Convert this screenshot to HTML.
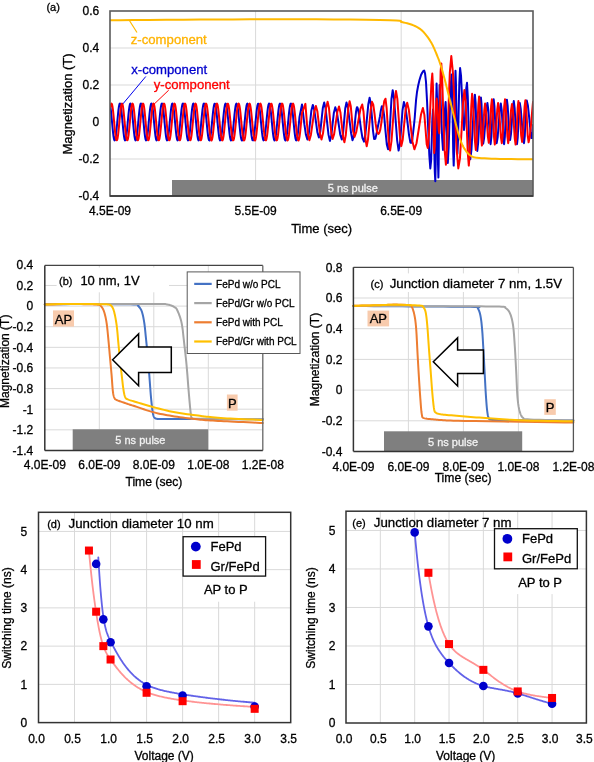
<!DOCTYPE html>
<html><head><meta charset="utf-8"><style>
html,body{margin:0;padding:0;background:#fff;}
svg{display:block;will-change:transform;}
text{font-family:"Liberation Sans", sans-serif;}
</style></head><body>
<svg width="594" height="762" viewBox="0 0 594 762">
<rect width="594" height="762" fill="#fff"/>
<line x1="110" y1="48" x2="533" y2="48" stroke="#d9d9d9" stroke-width="1" />
<line x1="110" y1="85" x2="533" y2="85" stroke="#d9d9d9" stroke-width="1" />
<line x1="110" y1="122" x2="533" y2="122" stroke="#d9d9d9" stroke-width="1" />
<line x1="110" y1="159" x2="533" y2="159" stroke="#d9d9d9" stroke-width="1" />
<line x1="255.6" y1="11" x2="255.6" y2="196" stroke="#d9d9d9" stroke-width="1" />
<line x1="401.2" y1="11" x2="401.2" y2="196" stroke="#d9d9d9" stroke-width="1" />
<rect x="172" y="180" width="361" height="16" fill="#7f7f7f" stroke="none" stroke-width="1"/>
<text x="352.8" y="191.8" font-size="11" text-anchor="middle" fill="#f2f2f2" stroke="#f2f2f2" stroke-width="0.3" >5 ns pulse</text>
<clipPath id="ca"><rect x="110" y="11" width="423" height="185"/></clipPath>
<path d="M110.5,107.37 L111,111.35 L111.5,116.28 L112,121.72 L112.5,127.19 L113,132.19 L113.5,136.29 L114,139.12 L114.5,140.43 L115,140.1 L115.5,138.16 L116,134.78 L116.5,130.28 L117,125.03 L117.5,119.52 L118,114.22 L118.5,109.62 L119,106.12 L119.5,104.03 L120,103.53 L120.5,104.68 L121,107.37 L121.5,111.35 L122,116.28 L122.5,121.72 L123,127.19 L123.5,132.19 L124,136.29 L124.5,139.12 L125,140.43 L125.5,140.1 L126,138.16 L126.5,134.78 L127,130.28 L127.5,125.03 L128,119.52 L128.5,114.22 L129,109.62 L129.5,106.12 L130,104.03 L130.5,103.53 L131,104.68 L131.5,107.37 L132,111.35 L132.5,116.28 L133,121.72 L133.5,127.19 L134,132.19 L134.5,136.29 L135,139.12 L135.5,140.43 L136,140.1 L136.5,138.16 L137,134.78 L137.5,130.28 L138,125.03 L138.5,119.52 L139,114.22 L139.5,109.62 L140,106.12 L140.5,104.03 L141,103.53 L141.5,104.68 L142,107.37 L142.5,111.35 L143,116.28 L143.5,121.72 L144,127.19 L144.5,132.19 L145,136.29 L145.5,139.12 L146,140.43 L146.5,140.1 L147,138.16 L147.5,134.78 L148,130.28 L148.5,125.03 L149,119.52 L149.5,114.22 L150,109.62 L150.5,106.12 L151,104.03 L151.5,103.53 L152,104.68 L152.5,107.37 L153,111.35 L153.5,116.28 L154,121.72 L154.5,127.19 L155,132.19 L155.5,136.29 L156,139.12 L156.5,140.43 L157,140.1 L157.5,138.16 L158,134.78 L158.5,130.28 L159,125.03 L159.5,119.52 L160,114.22 L160.5,109.62 L161,106.12 L161.5,104.03 L162,103.53 L162.5,104.68 L163,107.37 L163.5,111.35 L164,116.28 L164.5,121.72 L165,127.19 L165.5,132.19 L166,136.29 L166.5,139.12 L167,140.43 L167.5,140.1 L168,138.16 L168.5,134.78 L169,130.28 L169.5,125.03 L170,119.52 L170.5,114.22 L171,109.62 L171.5,106.12 L172,104.03 L172.5,103.53 L173,104.68 L173.5,107.37 L174,111.35 L174.5,116.28 L175,121.72 L175.5,127.19 L176,132.19 L176.5,136.29 L177,139.12 L177.5,140.43 L178,140.1 L178.5,138.16 L179,134.78 L179.5,130.28 L180,125.03 L180.5,119.52 L181,114.22 L181.5,109.62 L182,106.12 L182.5,104.03 L183,103.53 L183.5,104.68 L184,107.37 L184.5,111.35 L185,116.28 L185.5,121.72 L186,127.19 L186.5,132.19 L187,136.29 L187.5,139.12 L188,140.43 L188.5,140.1 L189,138.16 L189.5,134.78 L190,130.28 L190.5,125.03 L191,119.52 L191.5,114.22 L192,109.62 L192.5,106.12 L193,104.03 L193.5,103.53 L194,104.68 L194.5,107.37 L195,111.35 L195.5,116.28 L196,121.72 L196.5,127.19 L197,132.19 L197.5,136.29 L198,139.12 L198.5,140.43 L199,140.1 L199.5,138.16 L200,134.78 L200.5,130.28 L201,125.03 L201.5,119.52 L202,114.22 L202.5,109.62 L203,106.12 L203.5,104.03 L204,103.53 L204.5,104.6 L205,107.12 L205.5,110.86 L206,115.54 L206.5,120.74 L207,126.06 L207.5,131.03 L208,135.26 L208.5,138.39 L209,140.15 L209.5,140.42 L210,139.15 L210.5,136.46 L211,132.57 L211.5,127.81 L212,122.56 L212.5,117.27 L213,112.37 L213.5,108.26 L214,105.3 L214.5,103.72 L215,103.66 L215.5,105.12 L216,107.98 L216.5,112 L217,116.86 L217.5,122.13 L218,127.4 L218.5,132.22 L219,136.19 L219.5,138.99 L220,140.37 L220.5,140.23 L221,138.58 L221.5,135.55 L222,131.4 L222.5,126.47 L223,121.17 L223.5,115.94 L224,111.21 L224.5,107.37 L225,104.75 L225.5,103.56 L226,103.9 L226.5,105.74 L227,108.93 L227.5,113.2 L228,118.2 L228.5,123.52 L229,128.71 L229.5,133.35 L230,137.04 L230.5,139.49 L231,140.48 L231.5,139.94 L232,137.92 L232.5,134.57 L233,130.18 L233.5,125.11 L234,119.79 L234.5,114.64 L235,110.11 L235.5,106.56 L236,104.3 L236.5,103.5 L237,104.24 L237.5,106.45 L238,109.95 L238.5,114.45 L239,119.57 L239.5,124.9 L240,129.99 L240.5,134.41 L241,137.81 L241.5,139.89 L242,140.49 L242.5,139.56 L243,137.17 L243.5,133.52 L244,128.91 L244.5,123.74 L245,118.41 L245.5,113.39 L246,109.08 L246.5,105.84 L247,103.94 L247.5,103.54 L248,104.68 L248.5,107.24 L249,111.04 L249.5,115.74 L250,120.96 L250.5,126.27 L251,131.22 L251.5,135.41 L252,138.48 L252.5,140.19 L253,140.39 L253.5,139.07 L254,136.33 L254.5,132.4 L255,127.6 L255.5,122.35 L256,117.06 L256.5,112.18 L257,108.12 L257.5,105.21 L258,103.69 L258.5,103.69 L259,105.21 L259.5,108.12 L260,112.18 L260.5,117.06 L261,122.35 L261.5,127.6 L262,132.4 L262.5,136.33 L263,139.07 L263.5,140.39 L264,140.19 L264.5,138.48 L265,135.41 L265.5,131.22 L266,126.27 L266.5,120.96 L267,115.74 L267.5,111.04 L268,107.24 L268.5,104.68 L269,103.54 L269.5,103.94 L270,105.84 L270.5,109.08 L271,113.39 L271.5,118.41 L272,123.74 L272.5,128.91 L273,133.52 L273.5,137.17 L274,139.56 L274.5,140.49 L275,139.89 L275.5,137.81 L276,134.41 L276.5,129.99 L277,124.9 L277.5,119.57 L278,114.45 L278.5,109.95 L279,106.45 L279.5,104.24 L280,103.5 L280.5,104.3 L281,106.56 L281.5,110.11 L282,114.64 L282.5,119.79 L283,125.11 L283.5,130.18 L284,134.57 L284.5,137.92 L285,139.94 L285.5,140.48 L286,139.49 L286.5,137.04 L287,133.35 L287.5,128.71 L288,123.52 L288.5,118.2 L289,113.2 L289.5,108.93 L290,105.74 L290.5,103.9 L291,103.56 L291.5,104.75 L292,107.37 L292.5,111.21 L293,115.94 L293.5,121.17 L294,126.47 L294.5,131.4 L295,135.55 L295.5,138.58 L296,140.23 L296.5,140.37 L297,138.99 L297.5,136.19 L298,132.22 L298.5,127.4 L299,122.13 L299.5,116.86 L302,104.5 L302.97,112.42 L304.36,124.16 L305.92,134.82 L307.4,139.5 L308.73,134.17 L310.06,122.35 L311.4,110.46 L312.8,104.9 L314.29,109.91 L315.86,121.23 L317.41,132.53 L318.9,137.5 L320.27,131.78 L321.57,119.64 L322.87,107.67 L324.2,102.5 L325.6,108.63 L327.04,121.62 L328.49,134.65 L329.9,140.9 L331.25,136 L332.55,124.43 L333.88,112.67 L335.3,107.2 L336.89,112.26 L338.59,123.56 L340.28,134.75 L341.8,139.5 L343.07,133.37 L344.18,120.66 L345.28,108.12 L346.5,102.5 L347.97,108.22 L349.57,120.8 L351.15,133.66 L352.5,140.2 L353.58,137.17 L354.49,128.59 L355.28,118.76 L356,112 L356.56,108.85 L356.96,107.21 L357.43,107.44 L358.2,109.9 L359.4,117.22 L360.89,128.36 L362.48,138.19 L364,141.6 L365.44,133.97 L366.88,119.11 L368.28,104.55 L369.6,97.8 L370.8,103.47 L371.9,116.69 L372.98,130.73 L374.1,138.9 L375.3,138.65 L376.53,133.81 L377.75,127.22 L378.9,121.7 L379.93,116.42 L380.87,110.41 L381.83,106.26 L382.9,106.6 L384.13,115.6 L385.46,130.7 L386.81,144.43 L388.1,149.3 L389.26,138.88 L390.36,118.64 L391.47,98.96 L392.7,90.2 L394.1,99.45 L395.61,119.74 L397.14,140.36 L398.6,150.6 L399.94,144.02 L401.21,127.53 L402.5,110.43 L403.9,102 L405.51,107.26 L407.26,120.42 L408.95,134.54 L410.4,142.7 L411.52,142.74 L412.42,138.46 L413.21,131.87 L414,125 L414.74,117.51 L415.39,108.61 L416.1,99.66 L417,92 L418.2,85.5 L419.61,79.59 L421.03,75.02 L422.3,72.5 L423.32,71.03 L424.21,70.63 L425.07,73.54 L426,82 L427.07,101.6 L428.21,129.48 L429.32,155.21 L430.3,168.4 L431.1,160.83 L431.77,139.86 L432.39,118.44 L433,109.5 L433.63,122.24 L434.24,147.83 L434.8,172.21 L435.3,181.3 L435.68,164.28 L435.98,131.01 L436.26,98.43 L436.6,83.5 L437.03,97.91 L437.51,130.22 L437.98,162.7 L438.4,177.6 L438.69,163.88 L438.9,133.12 L439.16,101.44 L439.6,85 L440.31,92.82 L441.21,114.71 L442.15,138 L443,150 L443.72,143.39 L444.38,126.26 L445,108.99 L445.6,102 L446.14,113.07 L446.63,134.98 L447.15,155.62 L447.8,162.9 L448.65,147.09 L449.65,116.81 L450.65,87.48 L451.5,74.5 L452.16,89.01 L452.72,120.45 L453.21,151.69 L453.7,165.6 L454.18,150.81 L454.62,118.71 L455.05,86.36 L455.5,70.8 L455.95,82.98 L456.39,111.68 L456.87,140.66 L457.4,153.7 L457.99,140.67 L458.62,112.16 L459.32,82.99 L460.1,68 L461.01,75.67 L462.03,96.59 L463.06,118.72 L464,130 L464.81,122.98 L465.54,105.5 L466.25,88.47 L467,82.8 L467.77,96.51 L468.55,122.08 L469.38,147.11 L470.3,159.2 L471.41,150.15 L472.66,128.21 L473.87,105.64 L474.9,94.7 L475.63,102.83 L476.16,122.11 L476.67,141.73 L477.3,150.9 L478.15,142.9 L479.11,124.77 L480.06,106.33 L480.9,97.4 L481.52,104 L482.01,119.75 L482.52,135.9 L483.2,143.7 L484.14,137.72 L485.24,123.67 L486.38,109.46 L487.4,103 L488.27,109.56 L489.07,123.86 L489.83,138.03 L490.6,144.2 L491.38,136.95 L492.16,121.58 L492.93,106.3 L493.7,99.3 L494.43,105.99 L495.14,120.93 L495.87,136.03 L496.7,143.2 L497.67,137.25 L498.73,123.49 L499.81,109.64 L500.8,103.4 L501.69,109.93 L502.53,124.09 L503.33,138.11 L504.1,144.2 L504.83,137.09 L505.51,121.98 L506.18,106.86 L506.9,99.7 L507.66,105.67 L508.44,119.5 L509.26,133.51 L510.1,140 L511,133.92 L511.95,120.37 L512.9,106.92 L513.8,101.1 L514.64,108.09 L515.46,122.79 L516.24,137.43 L517,144.2 L517.7,137.92 L518.34,123.78 L519.01,109.55 L519.8,103 L520.78,109.27 L521.9,123.19 L523.02,137.06 L524,143.2 L524.76,136.49 L525.38,122.07 L526.01,107.56 L526.8,100.6 L527.89,105.53 L529.17,117.51 L530.42,130.41 L531.4,138.1 L532.05,138.08 L532.49,133.89 L532.78,128.54 L533,125" fill="none" stroke="#0000cc" stroke-width="2" stroke-linejoin="round" stroke-linecap="round" clip-path="url(#ca)"/>
<path d="M110.5,106.71 L111,104.32 L111.5,103.5 L112,104.32 L112.5,106.71 L113,110.47 L113.5,115.24 L114,120.62 L114.5,126.12 L115,131.25 L115.5,135.56 L116,138.67 L116.5,140.29 L117,140.29 L117.5,138.67 L118,135.56 L118.5,131.25 L119,126.12 L119.5,120.62 L120,115.24 L120.5,110.47 L121,106.71 L121.5,104.32 L122,103.5 L122.5,104.32 L123,106.71 L123.5,110.47 L124,115.24 L124.5,120.62 L125,126.12 L125.5,131.25 L126,135.56 L126.5,138.67 L127,140.29 L127.5,140.29 L128,138.67 L128.5,135.56 L129,131.25 L129.5,126.12 L130,120.62 L130.5,115.24 L131,110.47 L131.5,106.71 L132,104.32 L132.5,103.5 L133,104.32 L133.5,106.71 L134,110.47 L134.5,115.24 L135,120.62 L135.5,126.12 L136,131.25 L136.5,135.56 L137,138.67 L137.5,140.29 L138,140.29 L138.5,138.67 L139,135.56 L139.5,131.25 L140,126.12 L140.5,120.62 L141,115.24 L141.5,110.47 L142,106.71 L142.5,104.32 L143,103.5 L143.5,104.32 L144,106.71 L144.5,110.47 L145,115.24 L145.5,120.62 L146,126.12 L146.5,131.25 L147,135.56 L147.5,138.67 L148,140.29 L148.5,140.29 L149,138.67 L149.5,135.56 L150,131.25 L150.5,126.12 L151,120.62 L151.5,115.24 L152,110.47 L152.5,106.71 L153,104.32 L153.5,103.5 L154,104.32 L154.5,106.71 L155,110.47 L155.5,115.24 L156,120.62 L156.5,126.12 L157,131.25 L157.5,135.56 L158,138.67 L158.5,140.29 L159,140.29 L159.5,138.67 L160,135.56 L160.5,131.25 L161,126.12 L161.5,120.62 L162,115.24 L162.5,110.47 L163,106.71 L163.5,104.32 L164,103.5 L164.5,104.32 L165,106.71 L165.5,110.47 L166,115.24 L166.5,120.62 L167,126.12 L167.5,131.25 L168,135.56 L168.5,138.67 L169,140.29 L169.5,140.29 L170,138.67 L170.5,135.56 L171,131.25 L171.5,126.12 L172,120.62 L172.5,115.24 L173,110.47 L173.5,106.71 L174,104.32 L174.5,103.5 L175,104.32 L175.5,106.71 L176,110.47 L176.5,115.24 L177,120.62 L177.5,126.12 L178,131.25 L178.5,135.56 L179,138.67 L179.5,140.29 L180,140.29 L180.5,138.67 L181,135.56 L181.5,131.25 L182,126.12 L182.5,120.62 L183,115.24 L183.5,110.47 L184,106.71 L184.5,104.32 L185,103.5 L185.5,104.32 L186,106.71 L186.5,110.47 L187,115.24 L187.5,120.62 L188,126.12 L188.5,131.25 L189,135.56 L189.5,138.67 L190,140.29 L190.5,140.29 L191,138.67 L191.5,135.56 L192,131.25 L192.5,126.12 L193,120.62 L193.5,115.24 L194,110.47 L194.5,106.71 L195,104.32 L195.5,103.5 L196,104.32 L196.5,106.71 L197,110.47 L197.5,115.24 L198,120.62 L198.5,126.12 L199,131.25 L199.5,135.56 L200,138.67 L200.5,140.29 L201,140.29 L201.5,138.67 L202,135.56 L202.5,131.25 L203,126.12 L203.5,120.62 L204,115.24 L204.5,110.47 L205,106.71 L205.5,104.32 L206,103.5 L206.5,104.27 L207,106.51 L207.5,110.03 L208,114.55 L208.5,119.68 L209,125.01 L209.5,130.09 L210,134.49 L210.5,137.86 L211,139.92 L211.5,140.49 L212,139.52 L212.5,137.1 L213,133.43 L213.5,128.81 L214,123.63 L214.5,118.31 L215,113.3 L215.5,109 L216,105.79 L216.5,103.92 L217,103.55 L217.5,104.71 L218,107.31 L218.5,111.12 L219,115.84 L219.5,121.06 L220,126.37 L220.5,131.31 L221,135.48 L221.5,138.53 L222,140.21 L222.5,140.38 L223,139.03 L223.5,136.26 L224,132.31 L224.5,127.5 L225,122.24 L225.5,116.96 L226,112.09 L226.5,108.05 L227,105.17 L227.5,103.68 L228,103.71 L228.5,105.26 L229,108.19 L229.5,112.28 L230,117.16 L230.5,122.45 L231,127.71 L231.5,132.49 L232,136.39 L232.5,139.11 L233,140.41 L233.5,140.17 L234,138.44 L234.5,135.33 L235,131.13 L235.5,126.16 L236,120.85 L236.5,115.64 L237,110.95 L237.5,107.18 L238,104.64 L238.5,103.54 L239,103.97 L239.5,105.89 L240,109.16 L240.5,113.48 L241,118.52 L241.5,123.84 L242,129.01 L242.5,133.6 L243,137.23 L243.5,139.59 L244,140.49 L244.5,139.86 L245,137.75 L245.5,134.33 L246,129.89 L246.5,124.8 L247,119.47 L247.5,114.35 L248,109.87 L248.5,106.39 L249,104.21 L249.5,103.5 L250,104.33 L250.5,106.62 L251,110.19 L251.5,114.74 L252,119.89 L252.5,125.22 L253,130.28 L253.5,134.65 L254,137.97 L254.5,139.97 L255,140.48 L255.5,139.45 L256,136.98 L256.5,133.26 L257,128.61 L257.5,123.42 L258,118.1 L258.5,113.11 L259,108.85 L259.5,105.69 L260,103.88 L260.5,103.57 L261,104.79 L261.5,107.44 L262,111.3 L262.5,116.04 L263,121.28 L263.5,126.58 L264,131.5 L264.5,135.63 L265,138.63 L265.5,140.25 L266,140.36 L266.5,138.94 L267,136.12 L267.5,132.13 L268,127.3 L268.5,122.03 L269,116.75 L269.5,111.91 L270,107.91 L270.5,105.08 L271,103.65 L271.5,103.74 L272,105.35 L272.5,108.34 L273,112.46 L273.5,117.37 L274,122.67 L274.5,127.91 L275,132.66 L275.5,136.53 L276,139.19 L276.5,140.43 L277,140.13 L277.5,138.34 L278,135.19 L278.5,130.94 L279,125.95 L279.5,120.64 L280,115.44 L280.5,110.78 L281,107.05 L281.5,104.57 L282,103.53 L282.5,104.02 L283,106 L283.5,109.31 L284,113.68 L284.5,118.73 L285,124.05 L285.5,129.21 L286,133.77 L286.5,137.35 L287,139.65 L287.5,140.5 L288,139.81 L288.5,137.64 L289,134.17 L289.5,129.7 L290,124.58 L290.5,119.26 L291,114.16 L291.5,109.71 L292,106.28 L292.5,104.15 L293,103.5 L293.5,104.39 L294,106.74 L294.5,110.36 L295,114.94 L295.5,120.11 L296,125.43 L296.5,130.47 L297,134.8 L297.5,138.08 L298,140.02 L298.5,140.47 L299,139.38 L299.5,136.85 L300,133.09 L300.5,128.41 L301,123.2 L301.5,117.89 L302,112.92 L305.4,103.9 L306.06,112.08 L306.99,124.19 L308.13,135.24 L309.4,140.2 L310.87,135 L312.55,123.22 L314.28,111.36 L315.9,105.9 L317.35,111.2 L318.72,122.91 L320.09,134.52 L321.5,139.5 L323.02,133.34 L324.59,120.43 L326.14,107.64 L327.6,101.8 L328.89,107.44 L330.08,120.02 L331.28,132.76 L332.6,138.9 L334.12,134.09 L335.78,122.79 L337.44,111.44 L339,106.5 L340.43,112.43 L341.77,124.89 L343.09,137.07 L344.4,142.2 L345.72,135.55 L347.03,121.7 L348.33,107.85 L349.6,101.2 L350.78,106.33 L351.89,118.51 L353.09,130.97 L354.5,136.9 L356.3,131.85 L358.38,120.32 L360.43,108.98 L362.2,104.5 L363.53,111.76 L364.6,126.16 L365.59,140.18 L366.7,146.3 L367.98,139.52 L369.33,124.85 L370.69,109.78 L372,101.8 L373.27,104.59 L374.51,113.59 L375.7,123.95 L376.8,130.8 L377.73,133.32 L378.52,133.94 L379.34,132.7 L380.3,129.6 L381.49,122.02 L382.83,110.83 L384.2,101.3 L385.5,98.7 L386.66,108.47 L387.76,126.45 L388.87,143.53 L390.1,150.6 L391.5,140.83 L393.01,120.55 L394.54,100.37 L396,90.9 L397.35,98.91 L398.65,117.42 L399.95,136.45 L401.3,146 L402.7,139.99 L404.13,124.88 L405.62,109.51 L407.2,102.7 L408.88,110.09 L410.64,125.88 L412.48,141.73 L414.4,149.3 L416.52,143.23 L418.79,129.01 L421,114.58 L422.9,107.9 L424.39,114.88 L425.6,130.02 L426.69,144.12 L427.8,148 L429.01,133.82 L430.24,108.29 L431.37,83.98 L432.3,73.5 L432.95,85.69 L433.38,112.01 L433.75,138.94 L434.2,153 L434.76,146.68 L435.35,128.48 L435.97,108.89 L436.6,98.4 L437.27,103.31 L437.98,116.86 L438.67,129.93 L439.3,133.4 L439.79,119.27 L440.18,94.26 L440.63,71.32 L441.3,63.4 L442.25,81.6 L443.39,116.47 L444.63,150.13 L445.9,164.7 L447.16,147.11 L448.45,109.66 L449.82,72.55 L451.3,56 L452.96,73.02 L454.76,110.3 L456.58,148.53 L458.3,168.4 L459.93,158.63 L461.51,131.56 L463.02,103.33 L464.4,90.1 L465.65,101.61 L466.77,127.44 L467.82,153.48 L468.8,165.6 L469.69,155.01 L470.49,130.91 L471.27,106.2 L472.1,93.8 L473.01,101.42 L473.95,120.75 L474.89,140.66 L475.8,150 L476.66,141.96 L477.51,123.75 L478.32,105.32 L479.1,96.6 L479.83,103.79 L480.51,120.4 L481.18,137.36 L481.9,145.6 L482.66,139.55 L483.44,125.1 L484.26,110.35 L485.1,103.4 L486,109.46 L486.96,123.18 L487.91,136.87 L488.8,142.8 L489.62,135.67 L490.4,120.68 L491.15,105.87 L491.9,99.3 L492.63,106.42 L493.34,121.83 L494.05,137.3 L494.8,144.6 L495.59,138.39 L496.4,124.12 L497.24,109.69 L498.1,103 L499.01,109.27 L499.96,123.24 L500.9,137.15 L501.8,143.2 L502.64,136.08 L503.43,121.02 L504.21,106.07 L505,99.3 L505.79,106.05 L506.56,120.96 L507.36,136.02 L508.2,143.2 L509.11,137.35 L510.07,123.75 L511.05,110.05 L512,103.9 L512.93,110.42 L513.86,124.51 L514.76,138.47 L515.6,144.6 L516.34,137.67 L516.99,122.84 L517.66,108.02 L518.4,101.1 L519.27,107.31 L520.22,121.39 L521.18,135.53 L522.1,141.9 L522.96,135.31 L523.78,120.97 L524.59,106.67 L525.4,100.2 L526.18,106.76 L526.93,121.16 L527.72,135.6 L528.6,142.3 L529.72,137.07 L531,124.78 L532.18,111.17 L533,102" fill="none" stroke="#ff0000" stroke-width="2" stroke-linejoin="round" stroke-linecap="round" clip-path="url(#ca)"/>
<path d="M110.5,20.2 L120.12,20.13 L133.31,20.04 L149,19.93 L166.07,19.81 L183.44,19.7 L200,19.6 L216.17,19.51 L232.93,19.4 L249.97,19.3 L267.02,19.22 L283.79,19.18 L300,19.2 L316.48,19.28 L333.64,19.4 L350.51,19.56 L366.16,19.75 L379.64,19.97 L390,20.2 L396.51,20.46 L399.79,20.74 L400.89,21.04 L400.88,21.37 L400.83,21.73 L401.8,22.1 L403.62,22.49 L405.4,22.89 L407.14,23.31 L408.82,23.77 L410.45,24.26 L412,24.8 L413.48,25.38 L414.91,26 L416.27,26.65 L417.57,27.35 L418.81,28.1 L420,28.9 L421.1,29.75 L422.12,30.63 L423.08,31.56 L424.01,32.55 L424.94,33.63 L425.9,34.8 L426.89,36.07 L427.9,37.44 L428.91,38.89 L429.91,40.4 L430.87,41.98 L431.8,43.6 L432.68,45.3 L433.54,47.08 L434.37,48.93 L435.17,50.8 L435.95,52.66 L436.7,54.5 L437.42,56.27 L438.1,58 L438.76,59.72 L439.41,61.48 L440.05,63.33 L440.7,65.3 L441.35,67.4 L442,69.6 L442.65,71.89 L443.3,74.24 L443.95,76.65 L444.6,79.1 L445.26,81.62 L445.93,84.22 L446.6,86.88 L447.27,89.57 L447.94,92.25 L448.6,94.9 L449.25,97.52 L449.9,100.14 L450.55,102.75 L451.2,105.36 L451.85,107.98 L452.5,110.6 L453.16,113.25 L453.83,115.93 L454.5,118.62 L455.17,121.28 L455.84,123.88 L456.5,126.4 L457.14,128.86 L457.77,131.3 L458.39,133.68 L459.03,135.97 L459.69,138.15 L460.4,140.2 L461.15,142.11 L461.92,143.9 L462.72,145.59 L463.56,147.16 L464.41,148.63 L465.3,150 L466.2,151.27 L467.12,152.43 L468.06,153.49 L469.05,154.44 L470.09,155.28 L471.2,156 L472.25,156.56 L473.2,156.97 L474.21,157.26 L475.43,157.49 L477.01,157.68 L479.1,157.9 L481.69,158.13 L484.66,158.32 L487.98,158.49 L491.66,158.64 L495.67,158.78 L500,158.9 L505.18,159.01 L511.33,159.09 L517.81,159.16 L524,159.22 L529.27,159.26 L533,159.3" fill="none" stroke="#ffb900" stroke-width="2" stroke-linejoin="round" stroke-linecap="round" clip-path="url(#ca)"/>
<line x1="129.4" y1="20.5" x2="137" y2="32.5" stroke="#ffb900" stroke-width="1.2" />
<text x="130.8" y="43.6" font-size="13.15" text-anchor="start" fill="#ffb300" stroke="#ffb300" stroke-width="0.3" >z-component</text>
<line x1="145.8" y1="76.5" x2="122.9" y2="103.9" stroke="#0000ee" stroke-width="1" />
<text x="131.2" y="74.2" font-size="13.15" text-anchor="start" fill="#0000cc" stroke="#0000cc" stroke-width="0.3" >x-component</text>
<line x1="168.7" y1="90.2" x2="153.2" y2="105" stroke="#ff0000" stroke-width="1" />
<text x="153.8" y="88.5" font-size="13.15" text-anchor="start" fill="#ff0000" stroke="#ff0000" stroke-width="0.3" >y-component</text>
<rect x="110" y="11" width="423" height="185" fill="none" stroke="#5a5a5a" stroke-width="1.6"/>
<line x1="110" y1="196" x2="533" y2="196" stroke="#333" stroke-width="1.6" />
<text x="99.2" y="15.3" font-size="12" text-anchor="end" fill="#000" stroke="#000" stroke-width="0.3" >0.6</text>
<text x="99.2" y="52.3" font-size="12" text-anchor="end" fill="#000" stroke="#000" stroke-width="0.3" >0.4</text>
<text x="99.2" y="89.3" font-size="12" text-anchor="end" fill="#000" stroke="#000" stroke-width="0.3" >0.2</text>
<text x="99.2" y="126.3" font-size="12" text-anchor="end" fill="#000" stroke="#000" stroke-width="0.3" >0</text>
<text x="99.2" y="163.3" font-size="12" text-anchor="end" fill="#000" stroke="#000" stroke-width="0.3" >-0.2</text>
<text x="99.2" y="200.3" font-size="12" text-anchor="end" fill="#000" stroke="#000" stroke-width="0.3" >-0.4</text>
<text x="110" y="215" font-size="12" text-anchor="middle" fill="#000" stroke="#000" stroke-width="0.3" >4.5E-09</text>
<text x="255.6" y="215" font-size="12" text-anchor="middle" fill="#000" stroke="#000" stroke-width="0.3" >5.5E-09</text>
<text x="401.2" y="215" font-size="12" text-anchor="middle" fill="#000" stroke="#000" stroke-width="0.3" >6.5E-09</text>
<text x="321.6" y="233.4" font-size="13" text-anchor="middle" fill="#000" stroke="#000" stroke-width="0.3" >Time (sec)</text>
<text transform="translate(72.4,104) rotate(-90)" x="0" y="0" font-size="13" text-anchor="middle" fill="#000" stroke="#000" stroke-width="0.3">Magnetization (T)</text>
<text x="46.4" y="10.5" font-size="11" text-anchor="start" fill="#000" stroke="#000" stroke-width="0.3" >(a)</text>
<line x1="44.8" y1="285.48" x2="262.8" y2="285.48" stroke="#d9d9d9" stroke-width="1" />
<line x1="44.8" y1="306.1" x2="262.8" y2="306.1" stroke="#d9d9d9" stroke-width="1" />
<line x1="44.8" y1="326.72" x2="262.8" y2="326.72" stroke="#d9d9d9" stroke-width="1" />
<line x1="44.8" y1="347.34" x2="262.8" y2="347.34" stroke="#d9d9d9" stroke-width="1" />
<line x1="44.8" y1="367.96" x2="262.8" y2="367.96" stroke="#d9d9d9" stroke-width="1" />
<line x1="44.8" y1="388.58" x2="262.8" y2="388.58" stroke="#d9d9d9" stroke-width="1" />
<line x1="44.8" y1="409.2" x2="262.8" y2="409.2" stroke="#d9d9d9" stroke-width="1" />
<line x1="44.8" y1="429.82" x2="262.8" y2="429.82" stroke="#d9d9d9" stroke-width="1" />
<line x1="99.3" y1="265.4" x2="99.3" y2="450.4" stroke="#d9d9d9" stroke-width="1" />
<line x1="153.8" y1="265.4" x2="153.8" y2="450.4" stroke="#d9d9d9" stroke-width="1" />
<line x1="208.3" y1="265.4" x2="208.3" y2="450.4" stroke="#d9d9d9" stroke-width="1" />
<rect x="72.7" y="429.3" width="135.5" height="21.1" fill="#7f7f7f" stroke="none" stroke-width="1"/>
<text x="140.4" y="444.2" font-size="11" text-anchor="middle" fill="#f2f2f2" stroke="#f2f2f2" stroke-width="0.3" >5 ns pulse</text>
<rect x="53" y="310.4" width="21" height="16.2" fill="#f8cbad" stroke="none" stroke-width="1"/>
<text x="63.5" y="323.6" font-size="13" text-anchor="middle" fill="#000" stroke="#000" stroke-width="0.3" >AP</text>
<rect x="226.9" y="394.5" width="10.7" height="16.2" fill="#f8cbad" stroke="none" stroke-width="1"/>
<text x="232.25" y="407.7" font-size="13" text-anchor="middle" fill="#000" stroke="#000" stroke-width="0.3" >P</text>
<path d="M44.8,304.2 L48.3,304.19 L52.95,304.17 L58.49,304.15 L64.65,304.13 L71.15,304.11 L77.72,304.1 L84.1,304.09 L90,304.1 L95.83,304.11 L102.02,304.11 L108.34,304.12 L114.56,304.14 L120.47,304.17 L125.83,304.22 L130.41,304.29 L134,304.4 L136.43,304.52 L137.86,304.65 L138.52,304.79 L138.63,304.95 L138.43,305.15 L138.13,305.4 L137.98,305.72 L138.2,306.1 L138.68,306.53 L139.15,307 L139.61,307.5 L140.06,308.06 L140.49,308.7 L140.91,309.42 L141.32,310.25 L141.7,311.2 L142.07,312.27 L142.41,313.45 L142.75,314.73 L143.06,316.11 L143.37,317.56 L143.65,319.08 L143.93,320.67 L144.2,322.3 L144.45,324.01 L144.68,325.81 L144.9,327.69 L145.1,329.63 L145.3,331.61 L145.49,333.63 L145.69,335.66 L145.9,337.7 L146.11,339.73 L146.33,341.78 L146.54,343.84 L146.75,345.94 L146.96,348.07 L147.18,350.25 L147.39,352.49 L147.6,354.8 L147.81,357.18 L148.03,359.63 L148.24,362.13 L148.45,364.68 L148.66,367.27 L148.88,369.9 L149.09,372.54 L149.3,375.2 L149.51,377.94 L149.72,380.78 L149.93,383.69 L150.14,386.61 L150.36,389.49 L150.57,392.29 L150.78,394.94 L151,397.4 L151.22,399.72 L151.45,401.97 L151.67,404.13 L151.9,406.18 L152.13,408.09 L152.35,409.85 L152.58,411.42 L152.8,412.8 L153.01,413.94 L153.21,414.85 L153.41,415.57 L153.61,416.14 L153.81,416.6 L154.02,416.99 L154.25,417.34 L154.5,417.7 L154.76,418.03 L155.01,418.26 L155.26,418.43 L155.54,418.54 L155.84,418.62 L156.17,418.68 L156.56,418.73 L157,418.8 L157.3,418.87 L157.37,418.92 L157.37,418.95 L157.46,418.96 L157.82,418.97 L158.6,418.98 L159.97,418.99 L162.1,419 L164.92,419.02 L168.23,419.03 L172.04,419.04 L176.32,419.06 L181.07,419.07 L186.27,419.08 L191.92,419.09 L198,419.1 L205.16,419.11 L213.69,419.13 L223.03,419.14 L232.64,419.16 L241.98,419.17 L250.48,419.18 L257.6,419.19 L262.8,419.2" fill="none" stroke="#4472c4" stroke-width="2" stroke-linejoin="round" stroke-linecap="round" />
<path d="M44.8,303.9 L50.84,303.9 L59.14,303.9 L69.04,303.9 L79.9,303.89 L91.07,303.89 L101.91,303.89 L111.77,303.9 L120,303.9 L126.91,303.91 L133.25,303.91 L139.03,303.92 L144.26,303.92 L148.96,303.94 L153.15,303.95 L156.82,303.97 L160,304 L162.47,304.03 L164.12,304.06 L165.14,304.09 L165.7,304.12 L165.99,304.17 L166.18,304.23 L166.46,304.3 L167,304.4 L167.72,304.52 L168.4,304.66 L169.05,304.81 L169.67,304.98 L170.25,305.16 L170.8,305.34 L171.32,305.52 L171.8,305.7 L172.24,305.88 L172.64,306.06 L173,306.24 L173.33,306.43 L173.63,306.62 L173.92,306.81 L174.21,307.01 L174.5,307.2 L174.78,307.37 L175.03,307.49 L175.27,307.6 L175.5,307.72 L175.73,307.87 L175.97,308.09 L176.22,308.39 L176.5,308.8 L176.81,309.33 L177.14,309.97 L177.49,310.69 L177.84,311.48 L178.2,312.3 L178.55,313.14 L178.89,313.98 L179.2,314.8 L179.5,315.61 L179.79,316.43 L180.07,317.27 L180.34,318.11 L180.6,318.97 L180.85,319.84 L181.08,320.72 L181.3,321.6 L181.5,322.49 L181.69,323.37 L181.86,324.26 L182.02,325.16 L182.17,326.08 L182.31,327.02 L182.46,327.99 L182.6,329 L182.73,329.93 L182.83,330.73 L182.91,331.49 L183,332.31 L183.1,333.27 L183.22,334.48 L183.39,336.03 L183.6,338 L183.88,340.45 L184.2,343.32 L184.57,346.52 L184.96,349.97 L185.37,353.57 L185.77,357.25 L186.15,360.92 L186.5,364.5 L186.83,368.1 L187.14,371.86 L187.45,375.7 L187.75,379.57 L188.04,383.41 L188.33,387.13 L188.62,390.68 L188.9,394 L189.18,397.18 L189.46,400.33 L189.73,403.39 L190,406.3 L190.26,409.01 L190.52,411.45 L190.76,413.56 L191,415.3 L191.2,416.58 L191.35,417.42 L191.47,417.91 L191.59,418.16 L191.74,418.24 L191.94,418.24 L192.22,418.27 L192.6,418.4 L192.69,418.58 L192.29,418.69 L191.74,418.76 L191.35,418.78 L191.46,418.78 L192.38,418.78 L194.46,418.78 L198,418.8 L203.7,418.84 L211.54,418.87 L220.8,418.9 L230.74,418.93 L240.64,418.95 L249.76,418.97 L257.39,418.99 L262.8,419" fill="none" stroke="#a5a5a5" stroke-width="2" stroke-linejoin="round" stroke-linecap="round" />
<path d="M44.8,304.6 L46.78,304.55 L49.45,304.47 L52.63,304.38 L56.15,304.28 L59.82,304.19 L63.48,304.1 L66.93,304.04 L70,304 L72.84,303.99 L75.67,304.01 L78.45,304.05 L81.13,304.09 L83.67,304.15 L86.03,304.2 L88.15,304.26 L90,304.3 L91.53,304.33 L92.77,304.36 L93.77,304.38 L94.59,304.41 L95.28,304.44 L95.89,304.48 L96.48,304.53 L97.1,304.6 L97.7,304.66 L98.21,304.69 L98.65,304.72 L99.03,304.77 L99.39,304.86 L99.74,305.01 L100.1,305.25 L100.5,305.6 L100.93,306.04 L101.37,306.55 L101.81,307.12 L102.25,307.77 L102.68,308.5 L103.11,309.31 L103.51,310.21 L103.9,311.2 L104.27,312.29 L104.63,313.49 L104.97,314.77 L105.31,316.14 L105.63,317.58 L105.93,319.09 L106.22,320.67 L106.5,322.3 L106.76,324 L106.99,325.77 L107.2,327.62 L107.41,329.52 L107.6,331.49 L107.8,333.52 L107.99,335.59 L108.2,337.7 L108.41,339.88 L108.62,342.14 L108.84,344.47 L109.05,346.84 L109.26,349.24 L109.48,351.64 L109.69,354.04 L109.9,356.4 L110.12,358.77 L110.34,361.17 L110.56,363.59 L110.78,366.01 L111,368.39 L111.21,370.74 L111.41,373.01 L111.6,375.2 L111.77,377.35 L111.93,379.49 L112.08,381.6 L112.22,383.65 L112.36,385.6 L112.5,387.43 L112.64,389.11 L112.8,390.6 L112.96,391.89 L113.11,393 L113.26,393.96 L113.42,394.8 L113.59,395.54 L113.77,396.2 L113.97,396.81 L114.2,397.4 L114.41,397.92 L114.59,398.33 L114.75,398.65 L114.95,398.91 L115.21,399.15 L115.56,399.39 L116.05,399.67 L116.7,400 L117.55,400.39 L118.58,400.81 L119.74,401.24 L121,401.68 L122.31,402.13 L123.62,402.57 L124.9,402.99 L126.1,403.4 L127.17,403.77 L128.13,404.09 L129.05,404.39 L129.97,404.69 L130.97,405.01 L132.1,405.37 L133.43,405.79 L135,406.3 L136.86,406.92 L138.97,407.64 L141.27,408.42 L143.71,409.25 L146.21,410.08 L148.74,410.89 L151.22,411.64 L153.6,412.3 L155.89,412.88 L158.16,413.41 L160.4,413.9 L162.66,414.35 L164.93,414.78 L167.23,415.19 L169.58,415.6 L172,416 L174.53,416.4 L177.19,416.79 L179.91,417.17 L182.66,417.54 L185.38,417.88 L188.02,418.21 L190.55,418.52 L192.9,418.8 L195.02,419.05 L196.91,419.27 L198.67,419.47 L200.36,419.65 L202.06,419.82 L203.85,419.98 L205.8,420.14 L208,420.3 L210.38,420.46 L212.85,420.61 L215.43,420.76 L218.12,420.9 L220.95,421.04 L223.93,421.19 L227.07,421.34 L230.4,421.5 L234.19,421.68 L238.56,421.89 L243.24,422.11 L248,422.32 L252.58,422.53 L256.74,422.72 L260.23,422.88 L262.8,423" fill="none" stroke="#ed7d31" stroke-width="2" stroke-linejoin="round" stroke-linecap="round" />
<path d="M44.8,304.6 L46.71,304.54 L49.22,304.45 L52.19,304.34 L55.52,304.23 L59.09,304.12 L62.77,304.02 L66.45,303.94 L70,303.9 L73.67,303.89 L77.67,303.9 L81.86,303.94 L86.06,303.99 L90.14,304.04 L93.92,304.1 L97.26,304.16 L100,304.2 L102.1,304.23 L103.7,304.24 L104.88,304.26 L105.76,304.27 L106.43,304.29 L107,304.33 L107.55,304.4 L108.2,304.5 L108.86,304.61 L109.41,304.71 L109.86,304.81 L110.25,304.94 L110.59,305.12 L110.92,305.36 L111.25,305.68 L111.6,306.1 L111.96,306.59 L112.31,307.11 L112.64,307.69 L112.96,308.35 L113.27,309.1 L113.58,309.96 L113.89,310.96 L114.2,312.1 L114.52,313.4 L114.85,314.84 L115.18,316.41 L115.5,318.1 L115.82,319.89 L116.13,321.76 L116.42,323.7 L116.7,325.7 L116.96,327.81 L117.2,330.07 L117.43,332.44 L117.65,334.88 L117.86,337.35 L118.07,339.8 L118.28,342.2 L118.5,344.5 L118.72,346.73 L118.93,348.94 L119.14,351.12 L119.36,353.27 L119.57,355.39 L119.78,357.49 L119.99,359.56 L120.2,361.6 L120.41,363.61 L120.62,365.59 L120.84,367.54 L121.05,369.46 L121.26,371.36 L121.48,373.23 L121.69,375.08 L121.9,376.9 L122.11,378.74 L122.33,380.6 L122.54,382.46 L122.75,384.28 L122.96,386.04 L123.17,387.7 L123.39,389.23 L123.6,390.6 L123.81,391.81 L124.01,392.9 L124.2,393.87 L124.4,394.73 L124.6,395.5 L124.82,396.2 L125.05,396.83 L125.3,397.4 L125.54,397.88 L125.76,398.23 L125.97,398.49 L126.21,398.68 L126.48,398.84 L126.83,398.99 L127.26,399.17 L127.8,399.4 L128.4,399.65 L129,399.88 L129.65,400.1 L130.39,400.33 L131.26,400.59 L132.29,400.89 L133.52,401.26 L135,401.7 L136.76,402.24 L138.78,402.86 L141.02,403.55 L143.41,404.27 L145.92,405.03 L148.49,405.78 L151.06,406.51 L153.6,407.2 L156.13,407.87 L158.72,408.55 L161.35,409.22 L164.02,409.89 L166.73,410.54 L169.47,411.16 L172.23,411.75 L175,412.3 L177.89,412.81 L180.94,413.3 L184.08,413.76 L187.21,414.19 L190.26,414.6 L193.13,414.96 L195.74,415.3 L198,415.6 L199.79,415.85 L201.12,416.03 L202.16,416.18 L203.04,416.29 L203.91,416.4 L204.93,416.51 L206.25,416.64 L208,416.8 L210.14,417 L212.49,417.22 L215.05,417.45 L217.8,417.69 L220.72,417.93 L223.81,418.16 L227.04,418.39 L230.4,418.6 L234.19,418.8 L238.56,419.01 L243.24,419.22 L248,419.41 L252.58,419.6 L256.74,419.76 L260.23,419.89 L262.8,420" fill="none" stroke="#ffc000" stroke-width="2" stroke-linejoin="round" stroke-linecap="round" />
<path d="M112.6,359.8 L138.6,333.9 L138.6,347 L171.3,347 L171.3,372.5 L138.6,372.5 L138.6,385.7 Z" fill="#fff" stroke="#000" stroke-width="1.5" stroke-linejoin="miter"/>
<line x1="44.8" y1="265.4" x2="262.8" y2="265.4" stroke="#444" stroke-width="1.3" />
<line x1="262.8" y1="265.4" x2="262.8" y2="450.4" stroke="#666" stroke-width="1.3" />
<line x1="44.8" y1="265.4" x2="44.8" y2="450.4" stroke="#333" stroke-width="1.5" />
<line x1="44.8" y1="450.4" x2="262.8" y2="450.4" stroke="#333" stroke-width="1.5" />
<rect x="187.2" y="271.9" width="112.8" height="81.6" fill="#fff" stroke="#595959" stroke-width="1"/>
<line x1="194.2" y1="283.9" x2="211.7" y2="283.9" stroke="#4472c4" stroke-width="2.2" />
<text x="216.1" y="287.7" font-size="10" text-anchor="start" fill="#000" stroke="#000" stroke-width="0.3" >FePd w/o PCL</text>
<line x1="194.2" y1="303.1" x2="211.7" y2="303.1" stroke="#a5a5a5" stroke-width="2.2" />
<text x="216.1" y="306.9" font-size="10" text-anchor="start" fill="#000" stroke="#000" stroke-width="0.3" >FePd/Gr w/o PCL</text>
<line x1="194.2" y1="322.3" x2="211.7" y2="322.3" stroke="#ed7d31" stroke-width="2.2" />
<text x="216.1" y="326.1" font-size="10" text-anchor="start" fill="#000" stroke="#000" stroke-width="0.3" >FePd with PCL</text>
<line x1="194.2" y1="341.5" x2="211.7" y2="341.5" stroke="#ffc000" stroke-width="2.2" />
<text x="216.1" y="345.3" font-size="10" text-anchor="start" fill="#000" stroke="#000" stroke-width="0.3" >FePd/Gr with PCL</text>
<text x="33.3" y="269.16" font-size="12" text-anchor="end" fill="#000" stroke="#000" stroke-width="0.3" >0.4</text>
<text x="33.3" y="289.78" font-size="12" text-anchor="end" fill="#000" stroke="#000" stroke-width="0.3" >0.2</text>
<text x="33.3" y="310.4" font-size="12" text-anchor="end" fill="#000" stroke="#000" stroke-width="0.3" >0</text>
<text x="33.3" y="331.02" font-size="12" text-anchor="end" fill="#000" stroke="#000" stroke-width="0.3" >-0.2</text>
<text x="33.3" y="351.64" font-size="12" text-anchor="end" fill="#000" stroke="#000" stroke-width="0.3" >-0.4</text>
<text x="33.3" y="372.26" font-size="12" text-anchor="end" fill="#000" stroke="#000" stroke-width="0.3" >-0.6</text>
<text x="33.3" y="392.88" font-size="12" text-anchor="end" fill="#000" stroke="#000" stroke-width="0.3" >-0.8</text>
<text x="33.3" y="413.5" font-size="12" text-anchor="end" fill="#000" stroke="#000" stroke-width="0.3" >-1</text>
<text x="33.3" y="434.12" font-size="12" text-anchor="end" fill="#000" stroke="#000" stroke-width="0.3" >-1.2</text>
<text x="33.3" y="454.74" font-size="12" text-anchor="end" fill="#000" stroke="#000" stroke-width="0.3" >-1.4</text>
<text x="44.8" y="469.3" font-size="12" text-anchor="middle" fill="#000" stroke="#000" stroke-width="0.3" >4.0E-09</text>
<text x="99.3" y="469.3" font-size="12" text-anchor="middle" fill="#000" stroke="#000" stroke-width="0.3" >6.0E-09</text>
<text x="153.8" y="469.3" font-size="12" text-anchor="middle" fill="#000" stroke="#000" stroke-width="0.3" >8.0E-09</text>
<text x="208.3" y="469.3" font-size="12" text-anchor="middle" fill="#000" stroke="#000" stroke-width="0.3" >1.0E-08</text>
<text x="262.8" y="469.3" font-size="12" text-anchor="middle" fill="#000" stroke="#000" stroke-width="0.3" >1.2E-08</text>
<text x="153.9" y="486.3" font-size="12.15" text-anchor="middle" fill="#000" stroke="#000" stroke-width="0.3" >Time (sec)</text>
<text transform="translate(9.1,361.3) rotate(-90)" x="0" y="0" font-size="12" text-anchor="middle" fill="#000" stroke="#000" stroke-width="0.3">Magnetization (T)</text>
<rect x="56.6" y="267.5" width="112.4" height="24.8" fill="#fff" stroke="none" stroke-width="1"/>
<text x="59.1" y="285.1" font-size="11" text-anchor="start" fill="#000" stroke="#000" stroke-width="0.3" >(b)</text>
<text x="80.4" y="285.1" font-size="13" text-anchor="start" fill="#000" stroke="#000" stroke-width="0.3" >10 nm, 1V</text>
<line x1="353.4" y1="298" x2="573.4" y2="298" stroke="#d9d9d9" stroke-width="1" />
<line x1="353.4" y1="328.7" x2="573.4" y2="328.7" stroke="#d9d9d9" stroke-width="1" />
<line x1="353.4" y1="359.4" x2="573.4" y2="359.4" stroke="#d9d9d9" stroke-width="1" />
<line x1="353.4" y1="390.1" x2="573.4" y2="390.1" stroke="#d9d9d9" stroke-width="1" />
<line x1="353.4" y1="420.8" x2="573.4" y2="420.8" stroke="#d9d9d9" stroke-width="1" />
<line x1="408.4" y1="267.3" x2="408.4" y2="451.4" stroke="#d9d9d9" stroke-width="1" />
<line x1="463.4" y1="267.3" x2="463.4" y2="451.4" stroke="#d9d9d9" stroke-width="1" />
<line x1="518.4" y1="267.3" x2="518.4" y2="451.4" stroke="#d9d9d9" stroke-width="1" />
<rect x="384" y="431.3" width="138.2" height="20.1" fill="#7f7f7f" stroke="none" stroke-width="1"/>
<text x="453.1" y="446.1" font-size="11" text-anchor="middle" fill="#f2f2f2" stroke="#f2f2f2" stroke-width="0.3" >5 ns pulse</text>
<rect x="367.5" y="310.6" width="21.6" height="15.8" fill="#f8cbad" stroke="none" stroke-width="1"/>
<text x="378.3" y="323.4" font-size="13" text-anchor="middle" fill="#000" stroke="#000" stroke-width="0.3" >AP</text>
<rect x="544.3" y="399.2" width="11.5" height="15.7" fill="#f8cbad" stroke="none" stroke-width="1"/>
<text x="550.05" y="412.3" font-size="13" text-anchor="middle" fill="#000" stroke="#000" stroke-width="0.3" >P</text>
<path d="M353.4,306 L358.62,306.04 L365.65,306.09 L374.03,306.16 L383.3,306.22 L392.99,306.3 L402.65,306.37 L411.8,306.44 L420,306.5 L427.73,306.55 L435.65,306.58 L443.53,306.61 L451.15,306.64 L458.27,306.68 L464.67,306.73 L470.12,306.8 L474.4,306.9 L477.27,306.99 L478.85,307.04 L479.45,307.1 L479.34,307.18 L478.82,307.31 L478.2,307.52 L477.76,307.84 L477.8,308.3 L478.17,308.88 L478.53,309.54 L478.87,310.29 L479.21,311.14 L479.53,312.08 L479.83,313.11 L480.12,314.25 L480.4,315.5 L480.66,316.85 L480.9,318.29 L481.12,319.83 L481.33,321.47 L481.53,323.21 L481.72,325.06 L481.91,327.03 L482.1,329.1 L482.28,331.32 L482.46,333.7 L482.62,336.21 L482.78,338.81 L482.94,341.48 L483.09,344.19 L483.25,346.91 L483.4,349.6 L483.55,352.29 L483.71,355.03 L483.86,357.8 L484.01,360.6 L484.15,363.41 L484.3,366.22 L484.45,369.02 L484.6,371.8 L484.75,374.6 L484.9,377.45 L485.04,380.31 L485.19,383.17 L485.34,385.98 L485.49,388.73 L485.64,391.38 L485.8,393.9 L485.96,396.34 L486.13,398.75 L486.3,401.1 L486.47,403.36 L486.64,405.5 L486.82,407.51 L487.01,409.35 L487.2,411 L487.39,412.45 L487.57,413.72 L487.75,414.84 L487.94,415.81 L488.15,416.65 L488.37,417.39 L488.62,418.03 L488.9,418.6 L489.19,419.04 L489.48,419.33 L489.78,419.48 L490.11,419.55 L490.48,419.56 L490.91,419.55 L491.41,419.55 L492,419.6 L492.24,419.68 L491.92,419.74 L491.42,419.79 L491.1,419.83 L491.34,419.87 L492.51,419.91 L494.97,419.95 L499.1,420 L505.68,420.06 L514.69,420.13 L525.31,420.2 L536.69,420.27 L548.03,420.34 L558.47,420.41 L567.21,420.46 L573.4,420.5" fill="none" stroke="#4472c4" stroke-width="2" stroke-linejoin="round" stroke-linecap="round" />
<path d="M353.4,305.9 L361.18,305.93 L371.87,305.97 L384.64,306.03 L398.63,306.08 L413.01,306.14 L426.93,306.2 L439.54,306.25 L450,306.3 L458.7,306.33 L466.61,306.35 L473.75,306.36 L480.16,306.37 L485.87,306.39 L490.91,306.43 L495.31,306.5 L499.1,306.6 L501.99,306.72 L503.83,306.84 L504.86,306.97 L505.3,307.12 L505.39,307.32 L505.37,307.57 L505.46,307.9 L505.9,308.3 L506.57,308.76 L507.18,309.26 L507.76,309.8 L508.29,310.41 L508.8,311.1 L509.28,311.89 L509.75,312.78 L510.2,313.8 L510.64,314.92 L511.05,316.12 L511.44,317.42 L511.81,318.81 L512.16,320.33 L512.49,321.97 L512.8,323.76 L513.1,325.7 L513.37,327.82 L513.62,330.1 L513.84,332.53 L514.04,335.09 L514.24,337.76 L514.42,340.51 L514.61,343.33 L514.8,346.2 L514.99,349.16 L515.17,352.24 L515.35,355.43 L515.52,358.68 L515.7,361.98 L515.86,365.28 L516.03,368.57 L516.2,371.8 L516.36,375.08 L516.51,378.48 L516.66,381.93 L516.81,385.35 L516.96,388.68 L517.12,391.84 L517.3,394.77 L517.5,397.4 L517.72,399.72 L517.94,401.8 L518.17,403.68 L518.42,405.37 L518.68,406.93 L518.96,408.36 L519.27,409.71 L519.6,411 L519.94,412.21 L520.27,413.3 L520.62,414.27 L520.99,415.14 L521.4,415.92 L521.87,416.62 L522.39,417.24 L523,417.8 L523.45,418.26 L523.64,418.6 L523.76,418.85 L524,419.02 L524.55,419.15 L525.61,419.26 L527.36,419.37 L530,419.5 L533.98,419.65 L539.31,419.78 L545.52,419.9 L552.14,420.01 L558.7,420.1 L564.75,420.18 L569.8,420.24 L573.4,420.3" fill="none" stroke="#a5a5a5" stroke-width="2" stroke-linejoin="round" stroke-linecap="round" />
<path d="M353.4,305.8 L355.53,305.75 L358.45,305.69 L361.94,305.62 L365.76,305.54 L369.71,305.45 L373.54,305.36 L377.05,305.28 L380,305.2 L382.43,305.12 L384.58,305.02 L386.5,304.92 L388.26,304.82 L389.93,304.74 L391.56,304.67 L393.23,304.62 L395,304.6 L396.91,304.61 L398.92,304.64 L400.97,304.69 L402.98,304.76 L404.9,304.84 L406.65,304.94 L408.17,305.06 L409.4,305.2 L410.28,305.31 L410.86,305.39 L411.2,305.45 L411.39,305.55 L411.48,305.71 L411.55,305.96 L411.66,306.35 L411.9,306.9 L412.23,307.61 L412.56,308.45 L412.91,309.4 L413.25,310.46 L413.59,311.61 L413.91,312.84 L414.22,314.14 L414.5,315.5 L414.76,316.88 L415,318.27 L415.22,319.71 L415.43,321.24 L415.62,322.9 L415.82,324.74 L416.01,326.79 L416.2,329.1 L416.39,331.73 L416.57,334.66 L416.74,337.83 L416.91,341.16 L417.08,344.58 L417.25,348.03 L417.42,351.42 L417.6,354.7 L417.78,357.93 L417.97,361.2 L418.16,364.49 L418.35,367.77 L418.54,371.01 L418.73,374.18 L418.92,377.25 L419.1,380.2 L419.28,383.05 L419.46,385.84 L419.64,388.56 L419.81,391.19 L419.99,393.74 L420.16,396.18 L420.33,398.5 L420.5,400.7 L420.66,402.8 L420.81,404.81 L420.96,406.74 L421.11,408.54 L421.26,410.22 L421.42,411.75 L421.6,413.12 L421.8,414.3 L421.97,415.26 L422.08,416 L422.17,416.55 L422.29,416.97 L422.48,417.29 L422.79,417.56 L423.24,417.81 L423.9,418.1 L424.78,418.38 L425.86,418.61 L427.1,418.79 L428.45,418.93 L429.87,419.05 L431.31,419.16 L432.74,419.27 L434.1,419.4 L435.37,419.53 L436.56,419.66 L437.74,419.78 L438.94,419.89 L440.22,420 L441.62,420.11 L443.2,420.2 L445,420.3 L446.46,420.38 L447.29,420.45 L447.95,420.5 L448.91,420.55 L450.63,420.61 L453.57,420.68 L458.21,420.77 L465,420.9 L475.06,421.07 L488.43,421.29 L503.94,421.53 L520.45,421.79 L536.8,422.04 L551.85,422.27 L564.43,422.46 L573.4,422.6" fill="none" stroke="#ed7d31" stroke-width="2" stroke-linejoin="round" stroke-linecap="round" />
<path d="M353.4,305.8 L355.53,305.75 L358.45,305.69 L361.94,305.61 L365.76,305.53 L369.71,305.44 L373.54,305.36 L377.05,305.27 L380,305.2 L382.36,305.12 L384.34,305.04 L386.05,304.94 L387.62,304.86 L389.18,304.78 L390.85,304.72 L392.74,304.69 L395,304.7 L397.76,304.74 L400.97,304.82 L404.45,304.92 L408.02,305.04 L411.51,305.17 L414.72,305.31 L417.47,305.46 L419.6,305.6 L421.04,305.72 L421.96,305.81 L422.46,305.89 L422.68,305.99 L422.72,306.12 L422.7,306.3 L422.76,306.55 L423,306.9 L423.37,307.3 L423.73,307.71 L424.07,308.16 L424.41,308.68 L424.73,309.29 L425.03,310.03 L425.32,310.92 L425.6,312 L425.86,313.23 L426.09,314.58 L426.3,316.06 L426.51,317.68 L426.7,319.44 L426.9,321.36 L427.09,323.45 L427.3,325.7 L427.51,328.2 L427.73,330.98 L427.94,333.96 L428.15,337.07 L428.36,340.25 L428.57,343.43 L428.79,346.53 L429,349.5 L429.21,352.35 L429.43,355.16 L429.64,357.94 L429.85,360.7 L430.06,363.45 L430.27,366.19 L430.49,368.94 L430.7,371.7 L430.91,374.52 L431.12,377.41 L431.34,380.33 L431.55,383.23 L431.76,386.08 L431.97,388.84 L432.19,391.46 L432.4,393.9 L432.61,396.22 L432.82,398.49 L433.04,400.67 L433.25,402.72 L433.46,404.64 L433.68,406.37 L433.89,407.9 L434.1,409.2 L434.3,410.21 L434.49,410.93 L434.66,411.43 L434.84,411.77 L435.04,411.99 L435.26,412.17 L435.51,412.35 L435.8,412.6 L436.13,412.87 L436.47,413.1 L436.85,413.3 L437.24,413.46 L437.67,413.61 L438.14,413.74 L438.65,413.87 L439.2,414 L439.71,414.12 L440.15,414.22 L440.58,414.3 L441.06,414.38 L441.68,414.46 L442.5,414.55 L443.58,414.66 L445,414.8 L446.79,414.97 L448.91,415.16 L451.29,415.37 L453.87,415.59 L456.59,415.82 L459.39,416.05 L462.22,416.28 L465,416.5 L467.75,416.72 L470.53,416.94 L473.36,417.16 L476.26,417.38 L479.24,417.61 L482.33,417.83 L485.54,418.06 L488.9,418.3 L492.29,418.55 L495.65,418.81 L499.06,419.08 L502.61,419.35 L506.39,419.61 L510.49,419.87 L515,420.1 L520,420.3 L525.97,420.48 L533.03,420.64 L540.74,420.79 L548.64,420.93 L556.31,421.04 L563.28,421.14 L569.13,421.23 L573.4,421.3" fill="none" stroke="#ffc000" stroke-width="2" stroke-linejoin="round" stroke-linecap="round" />
<path d="M433.3,361.7 L457.6,337.9 L457.6,350 L483.4,350 L483.4,373.4 L457.6,373.4 L457.6,386 Z" fill="#fff" stroke="#000" stroke-width="1.5" stroke-linejoin="miter"/>
<line x1="353.4" y1="267.3" x2="573.4" y2="267.3" stroke="#444" stroke-width="1.3" />
<line x1="573.4" y1="267.3" x2="573.4" y2="451.4" stroke="#555" stroke-width="1.3" />
<line x1="353.4" y1="267.3" x2="353.4" y2="451.4" stroke="#333" stroke-width="1.5" />
<line x1="353.4" y1="451.4" x2="573.4" y2="451.4" stroke="#333" stroke-width="1.5" />
<text x="342.4" y="271.6" font-size="12" text-anchor="end" fill="#000" stroke="#000" stroke-width="0.3" >0.8</text>
<text x="342.4" y="302.3" font-size="12" text-anchor="end" fill="#000" stroke="#000" stroke-width="0.3" >0.6</text>
<text x="342.4" y="333" font-size="12" text-anchor="end" fill="#000" stroke="#000" stroke-width="0.3" >0.4</text>
<text x="342.4" y="363.7" font-size="12" text-anchor="end" fill="#000" stroke="#000" stroke-width="0.3" >0.2</text>
<text x="342.4" y="394.4" font-size="12" text-anchor="end" fill="#000" stroke="#000" stroke-width="0.3" >0</text>
<text x="342.4" y="425.1" font-size="12" text-anchor="end" fill="#000" stroke="#000" stroke-width="0.3" >-0.2</text>
<text x="342.4" y="455.8" font-size="12" text-anchor="end" fill="#000" stroke="#000" stroke-width="0.3" >-0.4</text>
<text x="353.4" y="470.8" font-size="12" text-anchor="middle" fill="#000" stroke="#000" stroke-width="0.3" >4.0E-09</text>
<text x="408.4" y="470.8" font-size="12" text-anchor="middle" fill="#000" stroke="#000" stroke-width="0.3" >6.0E-09</text>
<text x="463.4" y="470.8" font-size="12" text-anchor="middle" fill="#000" stroke="#000" stroke-width="0.3" >8.0E-09</text>
<text x="518.4" y="470.8" font-size="12" text-anchor="middle" fill="#000" stroke="#000" stroke-width="0.3" >1.0E-08</text>
<text x="573.4" y="470.8" font-size="12" text-anchor="middle" fill="#000" stroke="#000" stroke-width="0.3" >1.2E-08</text>
<text x="463.1" y="481.5" font-size="12.15" text-anchor="middle" fill="#000" stroke="#000" stroke-width="0.3" >Time (sec)</text>
<text transform="translate(318.9,359.5) rotate(-90)" x="0" y="0" font-size="12" text-anchor="middle" fill="#000" stroke="#000" stroke-width="0.3">Magnetization (T)</text>
<rect x="366" y="273.4" width="200" height="18.6" fill="#fff" stroke="none" stroke-width="1"/>
<text x="370.5" y="288.3" font-size="11" text-anchor="start" fill="#000" stroke="#000" stroke-width="0.3" >(c)</text>
<text x="389.7" y="288.3" font-size="13.25" text-anchor="start" fill="#000" stroke="#000" stroke-width="0.3" >Junction diameter 7 nm, 1.5V</text>
<line x1="38.5" y1="684.36" x2="290.7" y2="684.36" stroke="#d9d9d9" stroke-width="1" />
<line x1="38.5" y1="646.13" x2="290.7" y2="646.13" stroke="#d9d9d9" stroke-width="1" />
<line x1="38.5" y1="607.89" x2="290.7" y2="607.89" stroke="#d9d9d9" stroke-width="1" />
<line x1="38.5" y1="569.65" x2="290.7" y2="569.65" stroke="#d9d9d9" stroke-width="1" />
<line x1="38.5" y1="531.42" x2="290.7" y2="531.42" stroke="#d9d9d9" stroke-width="1" />
<line x1="74.53" y1="512.3" x2="74.53" y2="722.6" stroke="#d9d9d9" stroke-width="1" />
<line x1="110.56" y1="512.3" x2="110.56" y2="722.6" stroke="#d9d9d9" stroke-width="1" />
<line x1="146.59" y1="512.3" x2="146.59" y2="722.6" stroke="#d9d9d9" stroke-width="1" />
<line x1="182.61" y1="512.3" x2="182.61" y2="722.6" stroke="#d9d9d9" stroke-width="1" />
<line x1="218.64" y1="512.3" x2="218.64" y2="722.6" stroke="#d9d9d9" stroke-width="1" />
<line x1="254.67" y1="512.3" x2="254.67" y2="722.6" stroke="#d9d9d9" stroke-width="1" />
<path d="M98.31,557.42 L98.69,563.85 L99.08,570 L99.48,575.87 L99.87,581.44 L100.27,586.71 L100.67,591.68 L101.07,596.35 L101.48,600.7 L101.89,604.75 L102.3,608.5 L102.71,611.95 L103.13,615.11 L103.54,617.96 L103.97,620.54 L104.39,622.88 L104.82,624.99 L105.25,626.9 L105.68,628.64 L106.11,630.23 L106.55,631.68 L106.99,633.02 L107.44,634.25 L107.88,635.4 L108.33,636.48 L108.78,637.51 L109.24,638.49 L109.7,639.44 L110.16,640.37 L110.62,641.29 L111.09,642.21 L111.56,643.13 L112.03,644.05 L112.51,644.98 L112.99,645.9 L113.47,646.81 L113.96,647.73 L114.45,648.64 L114.94,649.55 L115.43,650.45 L115.93,651.35 L116.43,652.24 L116.94,653.13 L117.45,654.01 L117.96,654.89 L118.47,655.75 L118.99,656.61 L119.51,657.47 L120.04,658.31 L120.57,659.15 L121.1,659.97 L121.63,660.79 L122.17,661.6 L122.71,662.4 L123.26,663.19 L123.81,663.96 L124.36,664.73 L124.92,665.49 L125.48,666.24 L126.04,666.98 L126.61,667.7 L127.18,668.42 L127.75,669.12 L128.33,669.81 L128.91,670.49 L129.5,671.16 L130.09,671.82 L130.68,672.47 L131.28,673.1 L131.88,673.73 L132.48,674.34 L133.09,674.94 L133.71,675.53 L134.32,676.11 L134.94,676.67 L135.57,677.22 L136.2,677.77 L136.83,678.3 L137.47,678.81 L138.11,679.32 L138.75,679.82 L139.4,680.3 L140.06,680.77 L140.71,681.23 L141.38,681.68 L142.04,682.12 L142.71,682.55 L143.39,682.96 L144.07,683.37 L144.75,683.76 L145.44,684.14 L146.13,684.51 L146.83,684.87 L147.53,685.22 L148.24,685.56 L148.95,685.88 L149.66,686.2 L150.38,686.51 L151.11,686.81 L151.84,687.1 L152.57,687.38 L153.31,687.66 L154.05,687.92 L154.8,688.18 L155.56,688.44 L156.31,688.68 L157.08,688.92 L157.85,689.16 L158.62,689.38 L159.4,689.6 L160.18,689.82 L160.97,690.03 L161.76,690.24 L162.56,690.44 L163.36,690.64 L164.17,690.83 L164.99,691.02 L165.81,691.21 L166.63,691.39 L167.46,691.57 L168.3,691.74 L169.14,691.92 L169.98,692.09 L170.84,692.25 L171.69,692.42 L172.56,692.58 L173.42,692.74 L174.3,692.9 L175.18,693.06 L176.06,693.21 L176.95,693.37 L177.85,693.52 L178.75,693.67 L179.66,693.83 L180.58,693.98 L181.5,694.13 L182.42,694.27 L183.36,694.42 L184.29,694.57 L185.24,694.72 L186.19,694.87 L187.15,695.02 L188.11,695.16 L189.08,695.31 L190.05,695.46 L191.03,695.6 L192.02,695.75 L193.02,695.89 L194.02,696.04 L195.03,696.18 L196.04,696.33 L197.06,696.47 L198.09,696.61 L199.12,696.76 L200.16,696.9 L201.21,697.04 L202.26,697.18 L203.32,697.32 L204.39,697.46 L205.47,697.6 L206.55,697.74 L207.64,697.88 L208.73,698.02 L209.83,698.16 L210.94,698.29 L212.06,698.43 L213.19,698.57 L214.32,698.7 L215.46,698.84 L216.6,698.97 L217.76,699.1 L218.92,699.24 L220.09,699.37 L221.26,699.5 L222.45,699.63 L223.64,699.76 L224.84,699.89 L226.04,700.02 L227.26,700.15 L228.48,700.28 L229.71,700.41 L230.95,700.54 L232.2,700.66 L233.45,700.79 L234.72,700.91 L235.99,701.04 L237.27,701.16 L238.55,701.29 L239.85,701.41 L241.15,701.53 L242.47,701.65 L243.79,701.77 L245.12,701.89 L246.46,702.01 L247.8,702.13 L249.16,702.25 L250.52,702.37 L251.9,702.49 L253.28,702.6 L254.67,702.72" fill="none" stroke="#6262e8" stroke-width="1.8" stroke-linejoin="round" stroke-linecap="round" />
<path d="M88.94,550.54 L89.31,554.66 L89.68,558.68 L90.06,562.6 L90.44,566.43 L90.82,570.18 L91.2,573.84 L91.59,577.41 L91.98,580.9 L92.37,584.31 L92.77,587.64 L93.17,590.9 L93.57,594.09 L93.97,597.2 L94.38,600.25 L94.79,603.22 L95.2,606.13 L95.62,608.98 L96.04,611.77 L96.46,614.49 L96.88,617.15 L97.31,619.74 L97.74,622.25 L98.18,624.69 L98.62,627.05 L99.06,629.32 L99.5,631.5 L99.95,633.59 L100.4,635.6 L100.86,637.51 L101.31,639.32 L101.77,641.04 L102.24,642.67 L102.71,644.2 L103.18,645.63 L103.65,646.96 L104.13,648.21 L104.61,649.37 L105.1,650.45 L105.59,651.48 L106.08,652.44 L106.58,653.36 L107.08,654.23 L107.58,655.07 L108.09,655.88 L108.6,656.66 L109.11,657.43 L109.63,658.19 L110.15,658.93 L110.68,659.68 L111.21,660.43 L111.74,661.17 L112.28,661.92 L112.82,662.67 L113.37,663.42 L113.91,664.16 L114.47,664.9 L115.03,665.64 L115.59,666.38 L116.15,667.11 L116.72,667.84 L117.3,668.57 L117.88,669.29 L118.46,670 L119.05,670.71 L119.64,671.41 L120.23,672.11 L120.83,672.8 L121.44,673.48 L122.04,674.15 L122.66,674.82 L123.28,675.48 L123.9,676.13 L124.52,676.77 L125.16,677.4 L125.79,678.03 L126.43,678.64 L127.08,679.25 L127.73,679.85 L128.38,680.44 L129.04,681.01 L129.71,681.58 L130.38,682.14 L131.05,682.69 L131.73,683.23 L132.41,683.76 L133.1,684.28 L133.8,684.79 L134.5,685.29 L135.2,685.78 L135.91,686.27 L136.63,686.74 L137.35,687.2 L138.07,687.65 L138.8,688.09 L139.54,688.52 L140.28,688.94 L141.03,689.35 L141.78,689.75 L142.54,690.14 L143.3,690.52 L144.07,690.89 L144.85,691.25 L145.63,691.6 L146.41,691.94 L147.21,692.27 L148,692.59 L148.81,692.9 L149.62,693.21 L150.43,693.5 L151.25,693.79 L152.08,694.07 L152.92,694.34 L153.76,694.61 L154.6,694.87 L155.45,695.12 L156.31,695.36 L157.18,695.6 L158.05,695.83 L158.93,696.06 L159.81,696.28 L160.7,696.5 L161.6,696.71 L162.5,696.92 L163.41,697.12 L164.33,697.32 L165.25,697.51 L166.18,697.7 L167.12,697.89 L168.06,698.07 L169.01,698.25 L169.97,698.43 L170.94,698.6 L171.91,698.77 L172.89,698.94 L173.87,699.1 L174.87,699.27 L175.87,699.43 L176.88,699.58 L177.89,699.74 L178.92,699.89 L179.95,700.04 L180.98,700.19 L182.03,700.34 L183.08,700.49 L184.14,700.63 L185.21,700.78 L186.29,700.92 L187.38,701.06 L188.47,701.2 L189.57,701.34 L190.68,701.48 L191.79,701.61 L192.92,701.75 L194.05,701.88 L195.19,702.02 L196.34,702.15 L197.5,702.28 L198.67,702.41 L199.85,702.53 L201.03,702.66 L202.22,702.79 L203.42,702.91 L204.64,703.04 L205.85,703.16 L207.08,703.28 L208.32,703.4 L209.57,703.52 L210.82,703.64 L212.09,703.76 L213.36,703.88 L214.65,703.99 L215.94,704.11 L217.24,704.22 L218.55,704.33 L219.87,704.45 L221.2,704.56 L222.55,704.67 L223.9,704.78 L225.26,704.89 L226.63,705 L228.01,705.11 L229.4,705.21 L230.8,705.32 L232.21,705.42 L233.63,705.53 L235.07,705.63 L236.51,705.74 L237.96,705.84 L239.43,705.94 L240.9,706.04 L242.39,706.14 L243.88,706.24 L245.39,706.34 L246.91,706.44 L248.44,706.54 L249.98,706.63 L251.53,706.73 L253.1,706.83 L254.67,706.92" fill="none" stroke="#ff9494" stroke-width="1.8" stroke-linejoin="round" stroke-linecap="round" />
<circle cx="96.15" cy="563.92" r="4.3" fill="#0000cc"/>
<circle cx="103.35" cy="619.36" r="4.3" fill="#0000cc"/>
<circle cx="110.56" cy="642.3" r="4.3" fill="#0000cc"/>
<circle cx="146.59" cy="686.28" r="4.3" fill="#0000cc"/>
<circle cx="182.61" cy="695.45" r="4.3" fill="#0000cc"/>
<circle cx="254.67" cy="706.54" r="4.3" fill="#0000cc"/>
<rect x="84.94" y="546.54" width="8" height="8" fill="#ff0000" stroke="none" stroke-width="1"/>
<rect x="92.15" y="607.71" width="8" height="8" fill="#ff0000" stroke="none" stroke-width="1"/>
<rect x="99.35" y="642.13" width="8" height="8" fill="#ff0000" stroke="none" stroke-width="1"/>
<rect x="106.56" y="655.51" width="8" height="8" fill="#ff0000" stroke="none" stroke-width="1"/>
<rect x="142.59" y="688.78" width="8" height="8" fill="#ff0000" stroke="none" stroke-width="1"/>
<rect x="178.61" y="697.19" width="8" height="8" fill="#ff0000" stroke="none" stroke-width="1"/>
<rect x="250.67" y="704.83" width="8" height="8" fill="#ff0000" stroke="none" stroke-width="1"/>
<rect x="183.1" y="536.7" width="82.5" height="39.4" fill="#fff" stroke="#111" stroke-width="1.3"/>
<circle cx="195.8" cy="546.6" r="4.9" fill="#0000cc"/>
<rect x="191.9" y="560.1" width="8.8" height="8.8" fill="#ff0000" stroke="none" stroke-width="1"/>
<text x="210.5" y="550.5" font-size="13" text-anchor="start" fill="#000" stroke="#000" stroke-width="0.3" >FePd</text>
<text x="210.5" y="570.7" font-size="13" text-anchor="start" fill="#000" stroke="#000" stroke-width="0.3" >Gr/FePd</text>
<rect x="186" y="577.1" width="78" height="24.6" fill="#fff" stroke="none" stroke-width="1"/>
<text x="203.9" y="593.6" font-size="13" text-anchor="start" fill="#000" stroke="#000" stroke-width="0.3" >AP to P</text>
<rect x="38.5" y="512.3" width="252.2" height="210.3" fill="none" stroke="#333" stroke-width="1.5"/>
<text x="27.2" y="726.9" font-size="12" text-anchor="end" fill="#000" stroke="#000" stroke-width="0.3" >0</text>
<text x="27.2" y="688.66" font-size="12" text-anchor="end" fill="#000" stroke="#000" stroke-width="0.3" >1</text>
<text x="27.2" y="650.43" font-size="12" text-anchor="end" fill="#000" stroke="#000" stroke-width="0.3" >2</text>
<text x="27.2" y="612.19" font-size="12" text-anchor="end" fill="#000" stroke="#000" stroke-width="0.3" >3</text>
<text x="27.2" y="573.95" font-size="12" text-anchor="end" fill="#000" stroke="#000" stroke-width="0.3" >4</text>
<text x="27.2" y="535.72" font-size="12" text-anchor="end" fill="#000" stroke="#000" stroke-width="0.3" >5</text>
<text x="36.5" y="743.2" font-size="12" text-anchor="middle" fill="#000" stroke="#000" stroke-width="0.3" >0.0</text>
<text x="72.53" y="743.2" font-size="12" text-anchor="middle" fill="#000" stroke="#000" stroke-width="0.3" >0.5</text>
<text x="108.56" y="743.2" font-size="12" text-anchor="middle" fill="#000" stroke="#000" stroke-width="0.3" >1.0</text>
<text x="144.59" y="743.2" font-size="12" text-anchor="middle" fill="#000" stroke="#000" stroke-width="0.3" >1.5</text>
<text x="180.61" y="743.2" font-size="12" text-anchor="middle" fill="#000" stroke="#000" stroke-width="0.3" >2.0</text>
<text x="216.64" y="743.2" font-size="12" text-anchor="middle" fill="#000" stroke="#000" stroke-width="0.3" >2.5</text>
<text x="252.67" y="743.2" font-size="12" text-anchor="middle" fill="#000" stroke="#000" stroke-width="0.3" >3.0</text>
<text x="288.7" y="743.2" font-size="12" text-anchor="middle" fill="#000" stroke="#000" stroke-width="0.3" >3.5</text>
<text x="164.2" y="759.8" font-size="12" text-anchor="middle" fill="#000" stroke="#000" stroke-width="0.3" >Voltage (V)</text>
<text transform="translate(10.8,618) rotate(-90)" x="0" y="0" font-size="12" text-anchor="middle" fill="#000" stroke="#000" stroke-width="0.3">Switching time (ns)</text>
<text x="47.2" y="528.1" font-size="11" text-anchor="start" fill="#000" stroke="#000" stroke-width="0.3" >(d)</text>
<text x="68.6" y="528.1" font-size="13.25" text-anchor="start" fill="#000" stroke="#000" stroke-width="0.3" >Junction diameter 10 nm</text>
<line x1="346" y1="684.49" x2="586.4" y2="684.49" stroke="#d9d9d9" stroke-width="1" />
<line x1="346" y1="645.98" x2="586.4" y2="645.98" stroke="#d9d9d9" stroke-width="1" />
<line x1="346" y1="607.47" x2="586.4" y2="607.47" stroke="#d9d9d9" stroke-width="1" />
<line x1="346" y1="568.96" x2="586.4" y2="568.96" stroke="#d9d9d9" stroke-width="1" />
<line x1="346" y1="530.45" x2="586.4" y2="530.45" stroke="#d9d9d9" stroke-width="1" />
<line x1="380.34" y1="511.2" x2="380.34" y2="723" stroke="#d9d9d9" stroke-width="1" />
<line x1="414.69" y1="511.2" x2="414.69" y2="723" stroke="#d9d9d9" stroke-width="1" />
<line x1="449.03" y1="511.2" x2="449.03" y2="723" stroke="#d9d9d9" stroke-width="1" />
<line x1="483.37" y1="511.2" x2="483.37" y2="723" stroke="#d9d9d9" stroke-width="1" />
<line x1="517.71" y1="511.2" x2="517.71" y2="723" stroke="#d9d9d9" stroke-width="1" />
<line x1="552.06" y1="511.2" x2="552.06" y2="723" stroke="#d9d9d9" stroke-width="1" />
<path d="M414.69,532.38 L415.07,536.65 L415.45,540.82 L415.83,544.89 L416.22,548.86 L416.61,552.74 L417,556.53 L417.39,560.21 L417.79,563.81 L418.18,567.31 L418.58,570.71 L418.99,574.03 L419.39,577.25 L419.8,580.39 L420.2,583.44 L420.62,586.4 L421.03,589.27 L421.44,592.06 L421.86,594.77 L422.28,597.39 L422.7,599.94 L423.13,602.4 L423.56,604.79 L423.99,607.1 L424.42,609.34 L424.85,611.5 L425.29,613.59 L425.73,615.61 L426.17,617.56 L426.61,619.44 L427.06,621.25 L427.51,623 L427.96,624.68 L428.41,626.3 L428.87,627.86 L429.33,629.36 L429.79,630.8 L430.25,632.18 L430.72,633.52 L431.19,634.81 L431.66,636.05 L432.13,637.25 L432.61,638.41 L433.09,639.53 L433.57,640.61 L434.06,641.66 L434.54,642.67 L435.03,643.66 L435.53,644.61 L436.02,645.54 L436.52,646.44 L437.02,647.31 L437.53,648.16 L438.03,648.99 L438.54,649.8 L439.05,650.59 L439.57,651.36 L440.09,652.11 L440.61,652.85 L441.13,653.57 L441.66,654.28 L442.19,654.97 L442.72,655.66 L443.26,656.33 L443.79,657 L444.34,657.65 L444.88,658.3 L445.43,658.93 L445.98,659.57 L446.53,660.19 L447.09,660.81 L447.65,661.43 L448.21,662.04 L448.78,662.66 L449.34,663.26 L449.92,663.87 L450.49,664.47 L451.07,665.07 L451.65,665.67 L452.24,666.26 L452.83,666.85 L453.42,667.43 L454.01,668.01 L454.61,668.58 L455.21,669.15 L455.82,669.72 L456.42,670.27 L457.03,670.82 L457.65,671.37 L458.27,671.91 L458.89,672.44 L459.51,672.96 L460.14,673.48 L460.77,673.99 L461.41,674.5 L462.05,674.99 L462.69,675.48 L463.34,675.96 L463.99,676.43 L464.64,676.9 L465.3,677.35 L465.96,677.8 L466.62,678.24 L467.29,678.67 L467.96,679.1 L468.63,679.51 L469.31,679.92 L470,680.31 L470.68,680.7 L471.37,681.08 L472.07,681.45 L472.77,681.81 L473.47,682.17 L474.17,682.51 L474.88,682.84 L475.6,683.17 L476.31,683.48 L477.03,683.79 L477.76,684.09 L478.49,684.38 L479.22,684.66 L479.96,684.92 L480.7,685.18 L481.45,685.44 L482.2,685.68 L482.95,685.91 L483.71,686.13 L484.47,686.34 L485.24,686.54 L486.01,686.74 L486.78,686.93 L487.56,687.11 L488.35,687.29 L489.14,687.46 L489.93,687.62 L490.72,687.78 L491.53,687.94 L492.33,688.09 L493.14,688.24 L493.96,688.39 L494.77,688.54 L495.6,688.69 L496.43,688.83 L497.26,688.98 L498.1,689.13 L498.94,689.27 L499.79,689.42 L500.64,689.57 L501.49,689.73 L502.35,689.88 L503.22,690.04 L504.09,690.21 L504.96,690.37 L505.84,690.55 L506.73,690.72 L507.62,690.9 L508.51,691.09 L509.41,691.29 L510.32,691.49 L511.23,691.69 L512.14,691.91 L513.06,692.13 L513.99,692.36 L514.92,692.59 L515.85,692.84 L516.79,693.09 L517.74,693.35 L518.69,693.63 L519.64,693.9 L520.61,694.19 L521.57,694.48 L522.54,694.78 L523.52,695.09 L524.5,695.4 L525.49,695.71 L526.49,696.03 L527.49,696.35 L528.49,696.68 L529.5,697 L530.52,697.33 L531.54,697.66 L532.57,698 L533.6,698.33 L534.64,698.66 L535.68,698.99 L536.73,699.33 L537.79,699.66 L538.85,699.99 L539.92,700.32 L540.99,700.64 L542.07,700.97 L543.15,701.29 L544.25,701.61 L545.34,701.92 L546.45,702.24 L547.56,702.55 L548.67,702.85 L549.79,703.15 L550.92,703.45 L552.06,703.75" fill="none" stroke="#6262e8" stroke-width="1.8" stroke-linejoin="round" stroke-linecap="round" />
<path d="M428.42,572.81 L428.8,575.1 L429.19,577.35 L429.57,579.56 L429.95,581.74 L430.34,583.89 L430.73,585.99 L431.12,588.06 L431.52,590.1 L431.91,592.09 L432.31,594.05 L432.71,595.98 L433.11,597.87 L433.51,599.72 L433.91,601.54 L434.32,603.32 L434.72,605.07 L435.13,606.78 L435.55,608.46 L435.96,610.1 L436.37,611.71 L436.79,613.28 L437.21,614.82 L437.63,616.32 L438.05,617.79 L438.48,619.23 L438.91,620.63 L439.33,622 L439.76,623.34 L440.2,624.65 L440.63,625.92 L441.07,627.16 L441.51,628.37 L441.95,629.55 L442.39,630.7 L442.84,631.82 L443.28,632.91 L443.73,633.97 L444.18,635 L444.64,636 L445.09,636.97 L445.55,637.91 L446.01,638.82 L446.47,639.71 L446.93,640.57 L447.4,641.4 L447.87,642.2 L448.34,642.97 L448.81,643.72 L449.28,644.44 L449.76,645.13 L450.24,645.8 L450.72,646.45 L451.2,647.07 L451.69,647.67 L452.18,648.26 L452.67,648.82 L453.16,649.36 L453.65,649.88 L454.15,650.39 L454.65,650.89 L455.15,651.36 L455.66,651.83 L456.16,652.27 L456.67,652.71 L457.18,653.14 L457.69,653.55 L458.21,653.95 L458.73,654.35 L459.25,654.73 L459.77,655.11 L460.29,655.48 L460.82,655.84 L461.35,656.19 L461.88,656.54 L462.42,656.88 L462.96,657.22 L463.5,657.56 L464.04,657.89 L464.58,658.22 L465.13,658.54 L465.68,658.87 L466.23,659.19 L466.79,659.51 L467.35,659.83 L467.91,660.15 L468.47,660.47 L469.03,660.8 L469.6,661.12 L470.17,661.45 L470.74,661.78 L471.32,662.11 L471.9,662.44 L472.48,662.78 L473.06,663.12 L473.65,663.47 L474.24,663.82 L474.83,664.18 L475.42,664.54 L476.02,664.91 L476.62,665.28 L477.23,665.66 L477.83,666.05 L478.44,666.45 L479.05,666.85 L479.66,667.26 L480.28,667.67 L480.9,668.1 L481.52,668.53 L482.15,668.98 L482.78,669.43 L483.41,669.88 L484.04,670.35 L484.68,670.83 L485.32,671.31 L485.96,671.8 L486.61,672.29 L487.26,672.79 L487.91,673.3 L488.56,673.81 L489.22,674.32 L489.88,674.83 L490.55,675.34 L491.21,675.86 L491.88,676.37 L492.56,676.89 L493.23,677.4 L493.91,677.91 L494.6,678.42 L495.28,678.93 L495.97,679.43 L496.66,679.93 L497.36,680.43 L498.06,680.92 L498.76,681.41 L499.46,681.9 L500.17,682.37 L500.88,682.85 L501.6,683.31 L502.32,683.77 L503.04,684.23 L503.76,684.67 L504.49,685.11 L505.22,685.54 L505.96,685.97 L506.7,686.39 L507.44,686.79 L508.18,687.2 L508.93,687.59 L509.68,687.97 L510.44,688.35 L511.2,688.71 L511.96,689.07 L512.73,689.42 L513.49,689.76 L514.27,690.09 L515.04,690.41 L515.82,690.72 L516.61,691.02 L517.4,691.31 L518.19,691.59 L518.98,691.86 L519.78,692.12 L520.58,692.38 L521.39,692.62 L522.2,692.86 L523.01,693.09 L523.83,693.31 L524.65,693.52 L525.47,693.73 L526.3,693.93 L527.13,694.13 L527.97,694.32 L528.81,694.5 L529.65,694.68 L530.5,694.85 L531.35,695.02 L532.21,695.18 L533.07,695.34 L533.93,695.49 L534.8,695.64 L535.67,695.78 L536.54,695.93 L537.42,696.06 L538.31,696.2 L539.19,696.33 L540.08,696.46 L540.98,696.59 L541.88,696.71 L542.78,696.84 L543.69,696.96 L544.6,697.07 L545.52,697.19 L546.44,697.3 L547.37,697.42 L548.3,697.53 L549.23,697.64 L550.17,697.75 L551.11,697.86 L552.06,697.97" fill="none" stroke="#ff9494" stroke-width="1.8" stroke-linejoin="round" stroke-linecap="round" />
<circle cx="414.69" cy="532.38" r="4.3" fill="#0000cc"/>
<circle cx="428.42" cy="626.34" r="4.3" fill="#0000cc"/>
<circle cx="449.03" cy="662.93" r="4.3" fill="#0000cc"/>
<circle cx="483.37" cy="686.03" r="4.3" fill="#0000cc"/>
<circle cx="517.71" cy="693.35" r="4.3" fill="#0000cc"/>
<circle cx="552.06" cy="703.75" r="4.3" fill="#0000cc"/>
<rect x="424.42" y="568.81" width="8" height="8" fill="#ff0000" stroke="none" stroke-width="1"/>
<rect x="445.03" y="640.06" width="8" height="8" fill="#ff0000" stroke="none" stroke-width="1"/>
<rect x="479.37" y="665.86" width="8" height="8" fill="#ff0000" stroke="none" stroke-width="1"/>
<rect x="513.71" y="687.42" width="8" height="8" fill="#ff0000" stroke="none" stroke-width="1"/>
<rect x="548.06" y="693.97" width="8" height="8" fill="#ff0000" stroke="none" stroke-width="1"/>
<rect x="494.5" y="528.7" width="82.8" height="40.1" fill="#fff" stroke="#111" stroke-width="1.3"/>
<circle cx="507.4" cy="538.8" r="4.9" fill="#0000cc"/>
<rect x="503.4" y="552.5" width="8.8" height="8.8" fill="#ff0000" stroke="none" stroke-width="1"/>
<text x="522" y="542.9" font-size="13" text-anchor="start" fill="#000" stroke="#000" stroke-width="0.3" >FePd</text>
<text x="522" y="563.2" font-size="13" text-anchor="start" fill="#000" stroke="#000" stroke-width="0.3" >Gr/FePd</text>
<rect x="500" y="569.8" width="82" height="24.3" fill="#fff" stroke="none" stroke-width="1"/>
<text x="518.2" y="586.7" font-size="13" text-anchor="start" fill="#000" stroke="#000" stroke-width="0.3" >AP to P</text>
<rect x="346" y="511.2" width="240.4" height="211.8" fill="none" stroke="#333" stroke-width="1.5"/>
<text x="335.4" y="727.3" font-size="12" text-anchor="end" fill="#000" stroke="#000" stroke-width="0.3" >0</text>
<text x="335.4" y="688.79" font-size="12" text-anchor="end" fill="#000" stroke="#000" stroke-width="0.3" >1</text>
<text x="335.4" y="650.28" font-size="12" text-anchor="end" fill="#000" stroke="#000" stroke-width="0.3" >2</text>
<text x="335.4" y="611.77" font-size="12" text-anchor="end" fill="#000" stroke="#000" stroke-width="0.3" >3</text>
<text x="335.4" y="573.26" font-size="12" text-anchor="end" fill="#000" stroke="#000" stroke-width="0.3" >4</text>
<text x="335.4" y="534.75" font-size="12" text-anchor="end" fill="#000" stroke="#000" stroke-width="0.3" >5</text>
<text x="344" y="743.2" font-size="12" text-anchor="middle" fill="#000" stroke="#000" stroke-width="0.3" >0.0</text>
<text x="378.34" y="743.2" font-size="12" text-anchor="middle" fill="#000" stroke="#000" stroke-width="0.3" >0.5</text>
<text x="412.69" y="743.2" font-size="12" text-anchor="middle" fill="#000" stroke="#000" stroke-width="0.3" >1.0</text>
<text x="447.03" y="743.2" font-size="12" text-anchor="middle" fill="#000" stroke="#000" stroke-width="0.3" >1.5</text>
<text x="481.37" y="743.2" font-size="12" text-anchor="middle" fill="#000" stroke="#000" stroke-width="0.3" >2.0</text>
<text x="515.71" y="743.2" font-size="12" text-anchor="middle" fill="#000" stroke="#000" stroke-width="0.3" >2.5</text>
<text x="550.06" y="743.2" font-size="12" text-anchor="middle" fill="#000" stroke="#000" stroke-width="0.3" >3.0</text>
<text x="584.4" y="743.2" font-size="12" text-anchor="middle" fill="#000" stroke="#000" stroke-width="0.3" >3.5</text>
<text x="465.7" y="759.8" font-size="12" text-anchor="middle" fill="#000" stroke="#000" stroke-width="0.3" >Voltage (V)</text>
<text transform="translate(314.6,618) rotate(-90)" x="0" y="0" font-size="12" text-anchor="middle" fill="#000" stroke="#000" stroke-width="0.3">Switching time (ns)</text>
<text x="352.3" y="526.7" font-size="11" text-anchor="start" fill="#000" stroke="#000" stroke-width="0.3" >(e)</text>
<text x="373.8" y="526.7" font-size="13.25" text-anchor="start" fill="#000" stroke="#000" stroke-width="0.3" >Junction diameter 7 nm</text>
</svg>
</body></html>
